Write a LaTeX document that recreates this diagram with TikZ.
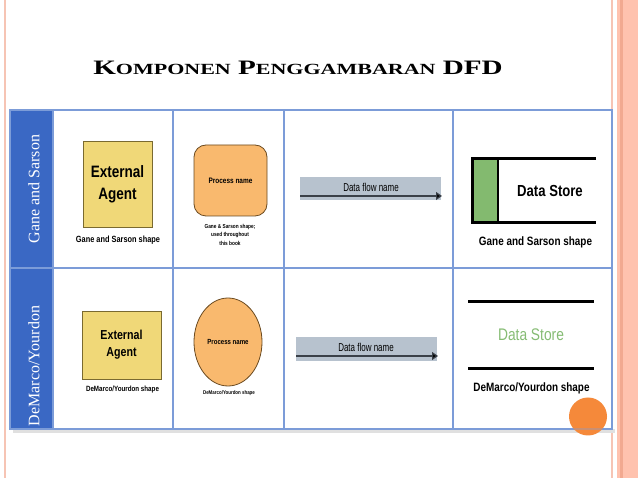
\documentclass[tikz,border=0pt]{standalone}
\usepackage{fontspec}
\setmainfont{Liberation Serif}
\newfontfamily\nsans[FakeStretch=0.82]{Liberation Sans}
\newfontfamily\vnsans[FakeStretch=0.7]{Liberation Sans}
\newfontfamily\titlefont[FakeStretch=1.42]{Liberation Serif}
\usetikzlibrary{arrows.meta,shapes.geometric}
\definecolor{hdr}{HTML}{3A68C4}
\definecolor{gridc}{HTML}{7C9CD8}
\definecolor{agentc}{HTML}{F0D878}
\definecolor{agentb}{HTML}{7A6A30}
\definecolor{procc}{HTML}{F9B96E}
\definecolor{procb}{HTML}{6B4A20}
\definecolor{flowc}{HTML}{B7C2CE}
\definecolor{flowl}{HTML}{3A4048}
\definecolor{storeg}{HTML}{83BA6F}
\definecolor{storet}{HTML}{86BC74}
\definecolor{orangec}{HTML}{F5893A}
\definecolor{salmon}{HTML}{FFC2AE}
\definecolor{salmond}{HTML}{F2A990}
\definecolor{salmonl}{HTML}{F6C4B4}
\tikzset{
  agent/.style={draw=agentb, line width=0.8pt, fill=agentc, align=center, inner sep=0pt},
  proc/.style={draw=procb, line width=0.8pt, fill=procc, align=center, inner sep=0pt},
  captext/.style={align=center, inner sep=0pt},
  flowbox/.style={fill=flowc, draw=none, inner sep=0pt},
  flowarrow/.style={draw=flowl, line width=1.2pt, -{Triangle[length=6pt,width=8pt,fill=black]}},
  storeline/.style={line width=3pt, draw=black},
  gridline/.style={draw=gridc, line width=2pt},
  hdrtext/.style={rotate=90, text=white, inner sep=0pt, font=\fontsize{16}{18}\selectfont}
}
\begin{document}
\begin{tikzpicture}[x=1pt,y=-1pt]
\useasboundingbox (0,0) rectangle (638,478);
\fill[white] (0,0) rectangle (638,478);
% slide decoration
\fill[salmon] (617,0) rectangle (638,478);
\fill[salmond] (620,0) rectangle (623,478);
\draw[salmonl, line width=2pt] (611.5,0) -- (611.5,478);
\draw[salmonl, line width=1.5pt] (5,0) -- (5,478);
% title
\node[anchor=base, inner sep=0pt] (title) at (298,75)
  {\titlefont\bfseries\fontsize{20.5}{24}\selectfont K{\fontsize{15.5}{18}\selectfont OMPONEN} P{\fontsize{15.5}{18}\selectfont ENGGAMBARAN} DFD};
% table
\fill[black!12] (13,429) rectangle (615,433);
\fill[hdr] (10,110) rectangle (53,429);
\fill[white] (53,110) rectangle (612,429);
\draw[gridline] (10,110) rectangle (612,429);
\foreach \xx in {53,173,284,453} \draw[gridline] (\xx,110) -- (\xx,429);
\draw[gridline] (10,268) -- (612,268);
% headers
\node[hdrtext] (h1) at (34,189) {Gane and Sarson};
\node[hdrtext] (h2) at (34,366) {DeMarco/Yourdon};
% row 1
\node[agent, minimum width=69pt, minimum height=86pt,
  font=\nsans\bfseries\fontsize{16.5}{22}\selectfont] (ea1) at (117.5,184) {External\\Agent};
\node[captext, font=\nsans\bfseries\fontsize{9}{11}\selectfont] (ea1c) at (118,240) {Gane and Sarson shape};
\node[proc, rounded corners=12pt, minimum width=73pt, minimum height=71pt,
  font=\nsans\bfseries\fontsize{7.9}{9}\selectfont] (p1) at (230.5,180.5) {Process name};
\node[captext, font=\nsans\bfseries\fontsize{5.8}{8.5}\selectfont] (p1c) at (230,234.5) {Gane \& Sarson shape;\\used throughout\\this book};
\node[flowbox, minimum width=141pt, minimum height=23pt] (f1) at (370.5,188.5) {};
\node[inner sep=0pt, font=\vnsans\fontsize{11.4}{12}\selectfont] (f1t) at (371,187) {Data flow name};
\coordinate (f1a) at (300,196);
\coordinate (f1b) at (442,196);
\draw[flowarrow] (f1a) -- (f1b);
\fill[storeg] (472,159) rectangle (498,223);
\coordinate (s1a) at (596,159);
\coordinate (s1b) at (472,159);
\coordinate (s1c) at (472,223);
\coordinate (s1d) at (596,223);
\draw[storeline] (s1a) -- (s1b) -- (s1c) -- (s1d);
\draw[line width=2.5pt] (498,159) -- (498,223);
\node[inner sep=0pt, font=\nsans\bfseries\fontsize{16}{18}\selectfont] (s1t) at (550,191) {Data Store};
\node[captext, font=\nsans\bfseries\fontsize{12.1}{15}\selectfont] (s1cap) at (535.5,242) {Gane and Sarson shape};
% row 2
\node[agent, minimum width=79pt, minimum height=68pt,
  font=\nsans\bfseries\fontsize{13}{17}\selectfont] (ea2) at (121.5,345) {External\\Agent};
\node[captext, font=\nsans\bfseries\fontsize{7.6}{9}\selectfont] (ea2c) at (122.5,390) {DeMarco/Yourdon shape};
\node[proc, ellipse, minimum width=68pt, minimum height=88pt,
  font=\nsans\bfseries\fontsize{7.4}{9}\selectfont] (p2) at (228,342) {Process name};
\node[captext, font=\nsans\bfseries\fontsize{5.4}{7}\selectfont] (p2c) at (229,393) {DeMarco/Yourdon shape};
\node[flowbox, minimum width=141pt, minimum height=24pt] (f2) at (366.5,349) {};
\node[inner sep=0pt, font=\vnsans\fontsize{11.4}{12}\selectfont] (f2t) at (366,347) {Data flow name};
\coordinate (f2a) at (296,356);
\coordinate (f2b) at (438,356);
\draw[flowarrow] (f2a) -- (f2b);
\coordinate (s2a) at (468,302);
\coordinate (s2b) at (594,302);
\coordinate (s2c) at (468,369);
\coordinate (s2d) at (594,369);
\draw[storeline] (s2a) -- (s2b);
\draw[storeline] (s2c) -- (s2d);
\node[inner sep=0pt, text=storet, font=\nsans\fontsize{16.8}{18}\selectfont] (s2t) at (531,335) {Data Store};
\node[captext, font=\nsans\bfseries\fontsize{12.1}{14}\selectfont] (s2cap) at (531.5,388) {DeMarco/Yourdon shape};
% orange dot
\fill[orangec] (588,416.5) circle (19pt);
\draw[gridc, line width=2pt, opacity=0.35] (569,429) -- (607,429);
\end{tikzpicture}
\end{document}
